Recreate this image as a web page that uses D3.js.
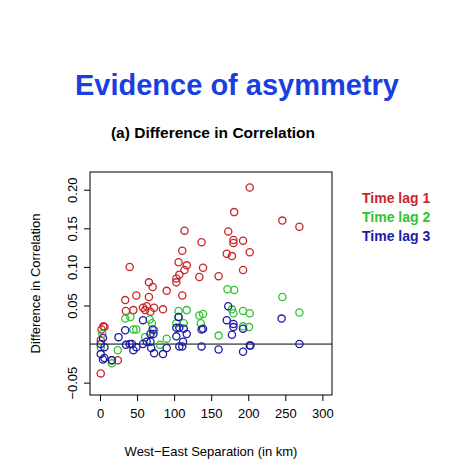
<!DOCTYPE html><html><head><meta charset="utf-8"><script src="https://cdn.jsdelivr.net/npm/d3@7"></script>
<style>body{margin:0;background:#fff}</style></head><body><svg id="c" width="474" height="474"></svg>
<script>
const red=[[202,0.203],[181,0.171],[246,0.160],[269,0.152],[114,0.147],[173,0.146],[180,0.135],[180,0.131],[193,0.134],[137,0.132],[111,0.121],[202,0.119],[171,0.117],[178,0.114],[106,0.106],[117,0.102],[40,0.100],[139,0.099],[114,0.096],[193,0.096],[107,0.090],[103,0.085],[134,0.087],[160,0.088],[103,0.080],[66,0.080],[71,0.074],[90,0.069],[49,0.063],[66,0.061],[111,0.063],[34,0.057],[35,0.043],[45,0.044],[58,0.047],[63,0.049],[73,0.047],[85,0.045],[61,0.044],[68,0.042],[4.5,0.023],[6,0.022],[2,0.019],[1,0.005],[24,-0.021],[1,-0.038],[16,-0.021]];
const green=[[172,0.071],[181,0.070],[246,0.061],[269,0.041],[106,0.043],[117,0.044],[134,0.037],[139,0.039],[178,0.045],[180,0.040],[193,0.043],[202,0.040],[201,0.022],[193,0.023],[34,0.033],[41,0.035],[45,0.019],[49,0.019],[67,0.032],[70,0.027],[106,0.035],[103,0.027],[113,0.027],[136,0.027],[160,0.011],[90,0.007],[61,0.009],[81,-0.001],[24,-0.008],[1,-0.004],[3,0.013],[16,-0.025],[73,0.018]];
const blue=[[173,0.049],[245,0.033],[269,0.000],[58,0.031],[106,0.035],[171,0.031],[180,0.026],[180,0.022],[193,0.020],[137,0.019],[139,0.020],[103,0.021],[107,0.021],[113,0.020],[71,0.019],[68,0.013],[72,0.013],[117,0.013],[178,0.012],[25,0.009],[34,0.018],[103,0.010],[112,0.003],[63,0.003],[68,0.003],[58,0.000],[35,-0.001],[40,0.000],[43,0.000],[45,-0.008],[49,-0.004],[107,-0.003],[111,-0.003],[137,-0.003],[160,-0.007],[193,-0.010],[202,-0.002],[203,-0.002],[69,-0.005],[73,-0.012],[85,-0.013],[90,-0.005],[4,0.008],[1,0.000],[6,-0.004],[1,-0.013],[6,-0.018],[16,-0.021],[4,-0.020]];
const xTicks=[0,50,100,150,200,250,300];
const yTicks=[-0.05,0.05,0.10,0.15,0.20];
const seriesNames=["Time lag 1","Time lag 2","Time lag 3"];
const colors=["#c8262b","#2fc42f","#1b1ba6"];
const svg=d3.select("#c");
const L=90,R=332,T=172,B=395;
const x=d3.scaleLinear().domain([-13.5,313]).range([L,R]);
const y=d3.scaleLinear().domain([-0.066,0.223]).range([B,T]);
const font="Liberation Sans, Arial, sans-serif";
svg.append("text").attr("x",237).attr("y",95).attr("text-anchor","middle").attr("font-family",font).attr("font-weight","bold").attr("font-size",29).attr("fill","#1a3fe0").text("Evidence of asymmetry");
svg.append("text").attr("x",213).attr("y",138).attr("text-anchor","middle").attr("font-family",font).attr("font-weight","bold").attr("font-size",15.5).text("(a) Difference in Correlation");
svg.append("rect").attr("x",L).attr("y",T).attr("width",R-L).attr("height",B-T).attr("fill","none").attr("stroke","#000");
const xa=svg.append("g").attr("transform",`translate(0,${B})`).call(d3.axisBottom(x).tickValues(xTicks).tickSize(6).tickFormat(d3.format("d")));
xa.select(".domain").remove();
xa.selectAll("text").attr("font-family",font).attr("font-size",13).attr("dy","1.1em");
const ya=svg.append("g").attr("transform",`translate(${L},0)`).call(d3.axisLeft(y).tickValues(yTicks).tickSize(6).tickFormat(d=>d3.format(".2f")(d).replace("\u2212","\u2212")));
ya.select(".domain").remove();
ya.selectAll(".tick text").attr("font-family",font).attr("font-size",13).attr("text-anchor","middle").attr("x",0).attr("y",0).attr("dy",0).attr("transform","rotate(-90) translate(0,-13)");
svg.append("line").attr("x1",L).attr("x2",R).attr("y1",y(0)).attr("y2",y(0)).attr("stroke","#000");
[red,green,blue].forEach((s,i)=>{
 svg.append("g").selectAll("circle").data(s).join("circle").attr("cx",d=>x(d[0])).attr("cy",d=>y(d[1])).attr("r",3.6).attr("fill","none").attr("stroke",colors[i]).attr("stroke-width",1.3);
});
svg.append("text").attr("x",211).attr("y",456).attr("text-anchor","middle").attr("font-family",font).attr("font-size",13).text("West\u2212East Separation (in km)");
svg.append("text").attr("transform",`translate(40,${(T+B)/2}) rotate(-90)`).attr("text-anchor","middle").attr("font-family",font).attr("font-size",13).text("Difference in Correlation");
seriesNames.forEach((n,i)=>svg.append("text").attr("x",362).attr("y",203+i*19).attr("font-family",font).attr("font-weight","bold").attr("font-size",14).attr("fill",colors[i]).text(n));
</script></body></html>
